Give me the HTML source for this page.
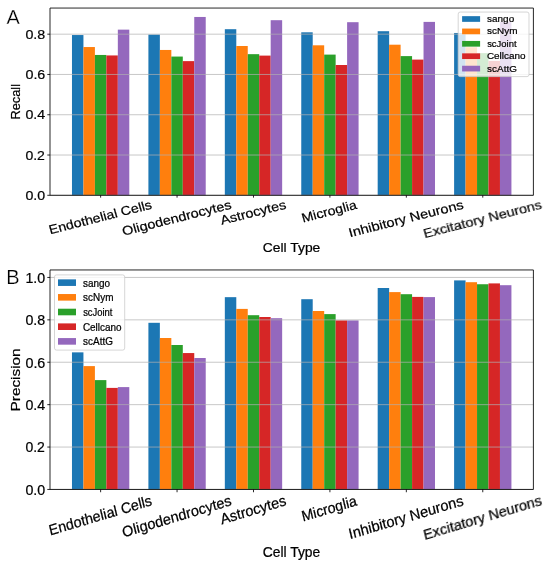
<!DOCTYPE html>
<html><head><meta charset="utf-8"><title>Recall and Precision by Cell Type</title>
<style>html,body{margin:0;padding:0;background:#fff;} svg{display:block;} text{font-family:"Liberation Sans",sans-serif;stroke:#000;stroke-width:0.2px;}</style>
</head><body>
<svg width="550" height="568" viewBox="0 0 550 568">
<defs><filter id="soft" x="0" y="0" width="100%" height="100%" filterUnits="userSpaceOnUse"><feGaussianBlur stdDeviation="0.35"/></filter></defs>
<g filter="url(#soft)">
<rect width="550" height="568" fill="#fff"/>
<rect x="71.973" y="35.040" width="11.464" height="160.260" fill="#1f77b4"/>
<rect x="83.437" y="47.040" width="11.464" height="148.260" fill="#ff7f0e"/>
<rect x="94.901" y="54.960" width="11.464" height="140.340" fill="#2ca02c"/>
<rect x="106.365" y="55.440" width="11.464" height="139.860" fill="#d62728"/>
<rect x="117.829" y="29.640" width="11.464" height="165.660" fill="#9467bd"/>
<rect x="148.400" y="34.600" width="11.464" height="160.700" fill="#1f77b4"/>
<rect x="159.864" y="49.960" width="11.464" height="145.340" fill="#ff7f0e"/>
<rect x="171.328" y="56.560" width="11.464" height="138.740" fill="#2ca02c"/>
<rect x="182.792" y="61.120" width="11.464" height="134.180" fill="#d62728"/>
<rect x="194.256" y="16.960" width="11.464" height="178.340" fill="#9467bd"/>
<rect x="224.826" y="29.200" width="11.464" height="166.100" fill="#1f77b4"/>
<rect x="236.291" y="46.000" width="11.464" height="149.300" fill="#ff7f0e"/>
<rect x="247.755" y="54.160" width="11.464" height="141.140" fill="#2ca02c"/>
<rect x="259.219" y="55.600" width="11.464" height="139.700" fill="#d62728"/>
<rect x="270.683" y="20.200" width="11.464" height="175.100" fill="#9467bd"/>
<rect x="301.253" y="32.300" width="11.464" height="163.000" fill="#1f77b4"/>
<rect x="312.717" y="45.300" width="11.464" height="150.000" fill="#ff7f0e"/>
<rect x="324.181" y="54.600" width="11.464" height="140.700" fill="#2ca02c"/>
<rect x="335.645" y="65.000" width="11.464" height="130.300" fill="#d62728"/>
<rect x="347.109" y="22.200" width="11.464" height="173.100" fill="#9467bd"/>
<rect x="377.680" y="31.200" width="11.464" height="164.100" fill="#1f77b4"/>
<rect x="389.144" y="44.700" width="11.464" height="150.600" fill="#ff7f0e"/>
<rect x="400.608" y="56.100" width="11.464" height="139.200" fill="#2ca02c"/>
<rect x="412.072" y="59.600" width="11.464" height="135.700" fill="#d62728"/>
<rect x="423.536" y="21.900" width="11.464" height="173.400" fill="#9467bd"/>
<rect x="454.107" y="32.970" width="11.464" height="162.330" fill="#1f77b4"/>
<rect x="465.571" y="47.200" width="11.464" height="148.100" fill="#ff7f0e"/>
<rect x="477.035" y="53.100" width="11.464" height="142.200" fill="#2ca02c"/>
<rect x="488.499" y="60.900" width="11.464" height="134.400" fill="#d62728"/>
<rect x="499.963" y="21.700" width="11.464" height="173.600" fill="#9467bd"/>
<line x1="50.0" x2="533.4" y1="195.300" y2="195.300" stroke="#b0b0b0" stroke-width="0.7"/>
<line x1="50.0" x2="533.4" y1="155.018" y2="155.018" stroke="#b0b0b0" stroke-width="0.7"/>
<line x1="50.0" x2="533.4" y1="114.736" y2="114.736" stroke="#b0b0b0" stroke-width="0.7"/>
<line x1="50.0" x2="533.4" y1="74.455" y2="74.455" stroke="#b0b0b0" stroke-width="0.7"/>
<line x1="50.0" x2="533.4" y1="34.173" y2="34.173" stroke="#b0b0b0" stroke-width="0.7"/>
<rect x="458.2" y="12.05" width="70.80000000000001" height="64.55" rx="2" ry="2" fill="#fff" fill-opacity="0.8" stroke="#ccc" stroke-opacity="0.8" stroke-width="1"/>
<rect x="462.1" y="16.150" width="18.0" height="5.7" fill="#1f77b4"/>
<text transform="matrix(1.0944 0.0000 0.0000 0.9784 487.1237 22.0000)" font-size="9.07" fill="#000">sango</text>
<rect x="462.1" y="28.550" width="18.0" height="5.7" fill="#ff7f0e"/>
<text transform="matrix(1.0960 0.0000 0.0000 0.9960 487.1233 34.4000)" font-size="9.07" fill="#000">scNym</text>
<rect x="462.1" y="40.950" width="18.0" height="5.7" fill="#2ca02c"/>
<text transform="matrix(1.0409 0.0000 0.0000 0.9856 487.1372 46.8000)" font-size="9.07" fill="#000">scJoint</text>
<rect x="462.1" y="53.350" width="18.0" height="5.7" fill="#d62728"/>
<text transform="matrix(1.0969 0.0000 0.0000 0.9856 486.8948 59.2000)" font-size="9.07" fill="#000">Cellcano</text>
<rect x="462.1" y="65.750" width="18.0" height="5.7" fill="#9467bd"/>
<text transform="matrix(1.0965 0.0000 0.0000 0.9992 487.1232 71.6000)" font-size="9.07" fill="#000">scAttG</text>
<path d="M50.0 195.3V8.05H533.4V195.3Z" fill="none" stroke="#000" stroke-width="0.85" stroke-linejoin="miter"/>
<line x1="47.3" x2="50.0" y1="195.300" y2="195.300" stroke="#000" stroke-width="0.85"/>
<text transform="matrix(1.1113 0.0000 0.0000 0.9992 25.4319 199.8722)" font-size="12.8" fill="#000">0.0</text>
<line x1="47.3" x2="50.0" y1="155.018" y2="155.018" stroke="#000" stroke-width="0.85"/>
<text transform="matrix(1.0950 0.0000 0.0000 0.9992 25.4400 159.5903)" font-size="12.8" fill="#000">0.2</text>
<line x1="47.3" x2="50.0" y1="114.736" y2="114.736" stroke="#000" stroke-width="0.85"/>
<text transform="matrix(1.1108 0.0000 0.0000 0.9992 25.4321 119.3085)" font-size="12.8" fill="#000">0.4</text>
<line x1="47.3" x2="50.0" y1="74.455" y2="74.455" stroke="#000" stroke-width="0.85"/>
<text transform="matrix(1.1180 0.0000 0.0000 0.9992 25.4285 79.0267)" font-size="12.8" fill="#000">0.6</text>
<line x1="47.3" x2="50.0" y1="34.173" y2="34.173" stroke="#000" stroke-width="0.85"/>
<text transform="matrix(1.1135 0.0000 0.0000 0.9992 25.4307 38.7449)" font-size="12.8" fill="#000">0.8</text>
<line x1="100.633" x2="100.633" y1="195.3" y2="197.650" stroke="#000" stroke-width="0.85"/>
<text transform="matrix(1.0753 -0.2708 0.2714 0.9520 50.2745 234.2123)" font-size="12.8" fill="#000">Endothelial Cells</text>
<line x1="177.060" x2="177.060" y1="195.3" y2="197.650" stroke="#000" stroke-width="0.85"/>
<text transform="matrix(1.0910 -0.2748 0.2714 0.9520 123.6011 235.7611)" font-size="12.8" fill="#000">Oligodendrocytes</text>
<line x1="253.487" x2="253.487" y1="195.3" y2="197.650" stroke="#000" stroke-width="0.85"/>
<text transform="matrix(1.0918 -0.2750 0.2742 0.9621 221.7676 224.8190)" font-size="12.8" fill="#000">Astrocytes</text>
<line x1="329.913" x2="329.913" y1="195.3" y2="197.650" stroke="#000" stroke-width="0.85"/>
<text transform="matrix(1.0667 -0.2687 0.2714 0.9520 303.0000 222.4044)" font-size="12.8" fill="#000">Microglia</text>
<line x1="406.340" x2="406.340" y1="195.3" y2="197.650" stroke="#000" stroke-width="0.85"/>
<text transform="matrix(1.1012 -0.2774 0.2714 0.9520 349.9694 237.1979)" font-size="12.8" fill="#000">Inhibitory Neurons</text>
<line x1="482.767" x2="482.767" y1="195.3" y2="197.650" stroke="#000" stroke-width="0.85"/>
<text transform="matrix(1.0911 -0.2748 0.2714 0.9520 424.6770 238.1030)" font-size="12.8" fill="#000">Excitatory Neurons</text>
<text transform="matrix(1.0973 0.0000 0.0000 0.9856 262.7411 252.2000)" font-size="12.65" fill="#000">Cell Type</text>
<text transform="matrix(0.0000 -1.0138 1.0485 0.0000 20.2000 119.5910)" font-size="12.65" fill="#000">Recall</text>
<text transform="matrix(1.0477 0.0000 0.0000 1.0596 6.5611 24.0000)" font-size="19.0" fill="#000" style="stroke:#fff;stroke-width:0.25px">A</text>
<rect x="71.973" y="352.350" width="11.464" height="137.100" fill="#1f77b4"/>
<rect x="83.437" y="366.100" width="11.464" height="123.350" fill="#ff7f0e"/>
<rect x="94.901" y="380.100" width="11.464" height="109.350" fill="#2ca02c"/>
<rect x="106.365" y="387.900" width="11.464" height="101.550" fill="#d62728"/>
<rect x="117.829" y="387.100" width="11.464" height="102.350" fill="#9467bd"/>
<rect x="148.400" y="322.800" width="11.464" height="166.650" fill="#1f77b4"/>
<rect x="159.864" y="338.000" width="11.464" height="151.450" fill="#ff7f0e"/>
<rect x="171.328" y="345.000" width="11.464" height="144.450" fill="#2ca02c"/>
<rect x="182.792" y="353.050" width="11.464" height="136.400" fill="#d62728"/>
<rect x="194.256" y="358.000" width="11.464" height="131.450" fill="#9467bd"/>
<rect x="224.826" y="297.160" width="11.464" height="192.290" fill="#1f77b4"/>
<rect x="236.291" y="308.900" width="11.464" height="180.550" fill="#ff7f0e"/>
<rect x="247.755" y="315.200" width="11.464" height="174.250" fill="#2ca02c"/>
<rect x="259.219" y="317.000" width="11.464" height="172.450" fill="#d62728"/>
<rect x="270.683" y="318.200" width="11.464" height="171.250" fill="#9467bd"/>
<rect x="301.253" y="299.200" width="11.464" height="190.250" fill="#1f77b4"/>
<rect x="312.717" y="311.000" width="11.464" height="178.450" fill="#ff7f0e"/>
<rect x="324.181" y="314.100" width="11.464" height="175.350" fill="#2ca02c"/>
<rect x="335.645" y="320.400" width="11.464" height="169.050" fill="#d62728"/>
<rect x="347.109" y="320.400" width="11.464" height="169.050" fill="#9467bd"/>
<rect x="377.680" y="288.000" width="11.464" height="201.450" fill="#1f77b4"/>
<rect x="389.144" y="292.100" width="11.464" height="197.350" fill="#ff7f0e"/>
<rect x="400.608" y="294.200" width="11.464" height="195.250" fill="#2ca02c"/>
<rect x="412.072" y="296.900" width="11.464" height="192.550" fill="#d62728"/>
<rect x="423.536" y="297.100" width="11.464" height="192.350" fill="#9467bd"/>
<rect x="454.107" y="280.400" width="11.464" height="209.050" fill="#1f77b4"/>
<rect x="465.571" y="282.200" width="11.464" height="207.250" fill="#ff7f0e"/>
<rect x="477.035" y="284.240" width="11.464" height="205.210" fill="#2ca02c"/>
<rect x="488.499" y="283.400" width="11.464" height="206.050" fill="#d62728"/>
<rect x="499.963" y="285.200" width="11.464" height="204.250" fill="#9467bd"/>
<line x1="50.0" x2="533.4" y1="489.450" y2="489.450" stroke="#b0b0b0" stroke-width="0.7"/>
<line x1="50.0" x2="533.4" y1="447.049" y2="447.049" stroke="#b0b0b0" stroke-width="0.7"/>
<line x1="50.0" x2="533.4" y1="404.648" y2="404.648" stroke="#b0b0b0" stroke-width="0.7"/>
<line x1="50.0" x2="533.4" y1="362.246" y2="362.246" stroke="#b0b0b0" stroke-width="0.7"/>
<line x1="50.0" x2="533.4" y1="319.845" y2="319.845" stroke="#b0b0b0" stroke-width="0.7"/>
<line x1="50.0" x2="533.4" y1="277.444" y2="277.444" stroke="#b0b0b0" stroke-width="0.7"/>
<rect x="54.5" y="274.9" width="70.2" height="75.20000000000005" rx="2" ry="2" fill="#fff" fill-opacity="0.8" stroke="#ccc" stroke-opacity="0.8" stroke-width="1"/>
<rect x="58.0" y="279.350" width="18.0" height="6.6" fill="#1f77b4"/>
<text transform="matrix(1.0944 0.0000 0.0000 1.1605 83.1237 286.5500)" font-size="9.07" fill="#000">sango</text>
<rect x="58.0" y="294.030" width="18.0" height="6.6" fill="#ff7f0e"/>
<text transform="matrix(1.0960 0.0000 0.0000 1.1815 83.1233 301.2300)" font-size="9.07" fill="#000">scNym</text>
<rect x="58.0" y="308.710" width="18.0" height="6.6" fill="#2ca02c"/>
<text transform="matrix(1.0409 0.0000 0.0000 1.1691 83.1372 315.9100)" font-size="9.07" fill="#000">scJoint</text>
<rect x="58.0" y="323.390" width="18.0" height="6.6" fill="#d62728"/>
<text transform="matrix(1.0969 0.0000 0.0000 1.1691 82.8948 330.5900)" font-size="9.07" fill="#000">Cellcano</text>
<rect x="58.0" y="338.070" width="18.0" height="6.6" fill="#9467bd"/>
<text transform="matrix(1.0965 0.0000 0.0000 1.1852 83.1232 345.2700)" font-size="9.07" fill="#000">scAttG</text>
<path d="M50.0 489.45V269.96H533.4V489.45Z" fill="none" stroke="#000" stroke-width="0.85" stroke-linejoin="miter"/>
<line x1="47.3" x2="50.0" y1="489.450" y2="489.450" stroke="#000" stroke-width="0.85"/>
<text transform="matrix(1.1113 0.0000 0.0000 1.1852 25.4319 494.8734)" font-size="12.8" fill="#000">0.0</text>
<line x1="47.3" x2="50.0" y1="447.049" y2="447.049" stroke="#000" stroke-width="0.85"/>
<text transform="matrix(1.0950 0.0000 0.0000 1.1852 25.4400 452.4721)" font-size="12.8" fill="#000">0.2</text>
<line x1="47.3" x2="50.0" y1="404.648" y2="404.648" stroke="#000" stroke-width="0.85"/>
<text transform="matrix(1.1108 0.0000 0.0000 1.1852 25.4321 410.0709)" font-size="12.8" fill="#000">0.4</text>
<line x1="47.3" x2="50.0" y1="362.246" y2="362.246" stroke="#000" stroke-width="0.85"/>
<text transform="matrix(1.1180 0.0000 0.0000 1.1852 25.4285 367.6697)" font-size="12.8" fill="#000">0.6</text>
<line x1="47.3" x2="50.0" y1="319.845" y2="319.845" stroke="#000" stroke-width="0.85"/>
<text transform="matrix(1.1135 0.0000 0.0000 1.1852 25.4307 325.2684)" font-size="12.8" fill="#000">0.8</text>
<line x1="47.3" x2="50.0" y1="277.444" y2="277.444" stroke="#000" stroke-width="0.85"/>
<text transform="matrix(1.1092 0.0000 0.0000 1.1852 25.4686 282.8672)" font-size="12.8" fill="#000">1.0</text>
<line x1="100.633" x2="100.633" y1="489.45" y2="492.238" stroke="#000" stroke-width="0.85"/>
<text transform="matrix(1.0753 -0.3213 0.2714 1.1293 50.2745 535.6066)" font-size="12.8" fill="#000">Endothelial Cells</text>
<line x1="177.060" x2="177.060" y1="489.45" y2="492.238" stroke="#000" stroke-width="0.85"/>
<text transform="matrix(1.0910 -0.3260 0.2714 1.1293 123.6011 537.4437)" font-size="12.8" fill="#000">Oligodendrocytes</text>
<line x1="253.487" x2="253.487" y1="489.45" y2="492.238" stroke="#000" stroke-width="0.85"/>
<text transform="matrix(1.0918 -0.3262 0.2742 1.1412 221.7676 524.4646)" font-size="12.8" fill="#000">Astrocytes</text>
<line x1="329.913" x2="329.913" y1="489.45" y2="492.238" stroke="#000" stroke-width="0.85"/>
<text transform="matrix(1.0667 -0.3187 0.2714 1.1293 303.0000 521.6004)" font-size="12.8" fill="#000">Microglia</text>
<line x1="406.340" x2="406.340" y1="489.45" y2="492.238" stroke="#000" stroke-width="0.85"/>
<text transform="matrix(1.1012 -0.3290 0.2714 1.1293 349.9694 539.1480)" font-size="12.8" fill="#000">Inhibitory Neurons</text>
<line x1="482.767" x2="482.767" y1="489.45" y2="492.238" stroke="#000" stroke-width="0.85"/>
<text transform="matrix(1.0911 -0.3260 0.2714 1.1293 424.6770 540.2217)" font-size="12.8" fill="#000">Excitatory Neurons</text>
<text transform="matrix(1.0973 0.0000 0.0000 1.1691 262.7411 556.6000)" font-size="12.65" fill="#000">Cell Type</text>
<text transform="matrix(0.0000 -1.2141 1.0485 0.0000 20.2000 411.4196)" font-size="12.65" fill="#000">Precision</text>
<text transform="matrix(0.9716 0.0000 0.0000 0.9854 6.3582 284.0000)" font-size="20.6" fill="#000" style="stroke:#fff;stroke-width:0.25px">B</text>
</g>
</svg>
</body></html>
